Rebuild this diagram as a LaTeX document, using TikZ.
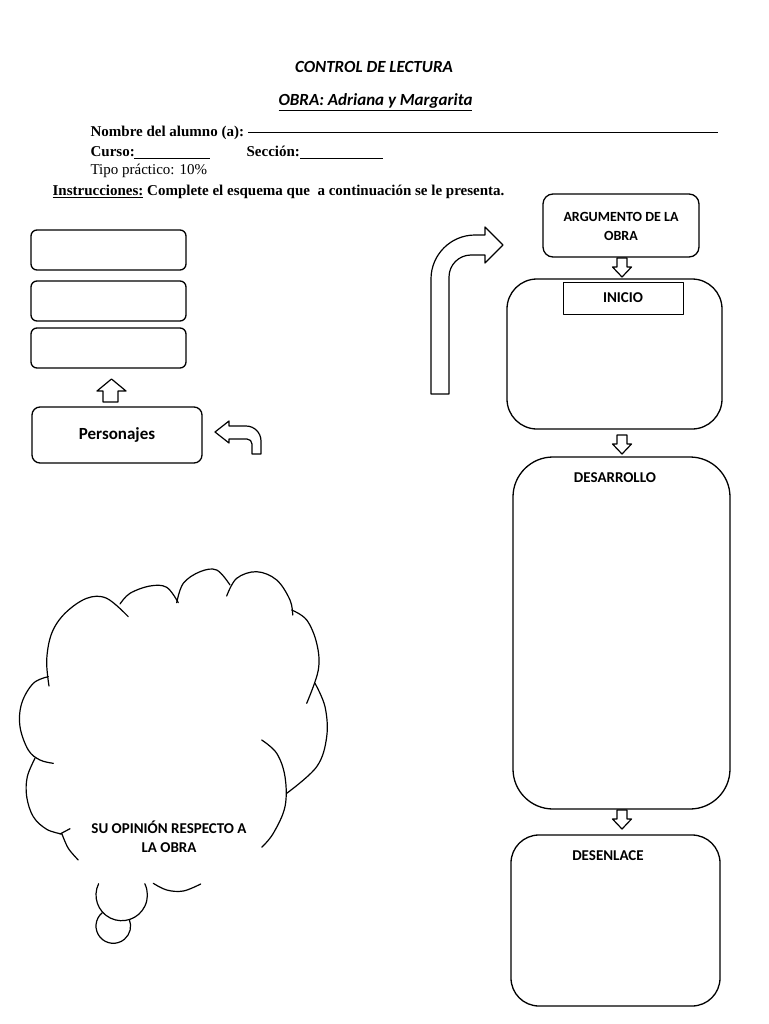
\documentclass[tikz,border=0pt]{standalone}
\usepackage{fontspec}
\setmainfont{Liberation Serif}
\newfontfamily\calib{Carlito}
\begin{document}
\begin{tikzpicture}[x=1pt,y=-1pt,line width=1.2pt,line join=round,
  box/.style={draw,rounded corners=#1,inner sep=0pt,line width=1.3pt},
  box/.default=6pt,
  lab/.style={font=\calib\bfseries\fontsize{15}{19}\selectfont,align=center,inner sep=0pt},
  ttl/.style={font=\calib\bfseries\itshape\fontsize{17}{20}\selectfont,inner sep=0pt,anchor=base},
  serif/.style={font=\fontsize{15}{17}\selectfont,inner sep=0pt,anchor=base west},
  serifb/.style={font=\bfseries\fontsize{15}{17}\selectfont,inner sep=0pt,anchor=base west},
  blk/.style={draw,fill=white,line width=1.2pt},
  darrow/.pic={\draw[blk] (-5,0) -- (5,0) -- (5,9) -- (9.5,9) -- (0,19) -- (-9.5,9) -- (-5,9) -- cycle;}
]
\fill[white] (0,0) rectangle (768,1024);
\useasboundingbox (0,0) rectangle (768,1024);

% ---------- header ----------
\node[ttl] (title) at (374,73) {CONTROL DE LECTURA};
\node[ttl] (obra) at (375.5,106) {\underline{OBRA: Adriana y Margarita}};
\node[serifb] (nom) at (90,137) {Nombre del alumno (a):};
\draw[line width=1pt] (248,133) -- (718,133);
\node[serifb] (curso) at (90,157) {Curso:};
\draw[line width=0.9pt] (134,158) -- (210,158);
\node[serifb] (secc) at (246,157) {Sección:};
\draw[line width=0.9pt] (300,158) -- (383,158);
\node[serif] (tipo) at (90,175) {Tipo práctico: 10\%};
\node[serifb] (instr) at (52,196) {\underline{Instrucciones:} Complete el esquema que\ \ a continuación se le presenta.};

% ---------- left column ----------
\node[box=6pt,minimum width=155pt,minimum height=40pt] (c1) at (108.5,250) {};
\node[box=6pt,minimum width=155pt,minimum height=40pt] (c2) at (108.5,301) {};
\node[box=6pt,minimum width=155pt,minimum height=40pt] (c3) at (108.5,348) {};
\node[box=8pt,minimum width=170pt,minimum height=56pt,font=\calib\bfseries\fontsize{17}{20}\selectfont] (pers) at (117,435) {Personajes};
% up block arrow
\draw[blk] (103,402) -- (118,402) -- (118,391) -- (126,391) -- (111.5,379) -- (97,391) -- (103,391) -- cycle;
% bent arrow pointing left
\draw[blk] (215,432) -- (229,421) -- (229,426) -- (246,426)
  arc[start angle=270,end angle=360,radius=15] -- (261,454) -- (252,454) -- (252,444)
  arc[start angle=0,end angle=-90,radius=5] -- (229,439) -- (229,443) -- cycle;

% ---------- right column ----------
\node[box=10pt,minimum width=156pt,minimum height=63pt] (arg) at (621,225.5) {};
\node[lab,font=\calib\bfseries\fontsize{14}{19}\selectfont] (argt) at (621,226.5) {ARGUMENTO DE LA\\OBRA};
\node[box=30pt,minimum width=215pt,minimum height=150pt] (ini) at (614.5,354) {};
\node[draw,line width=1pt,minimum width=120pt,minimum height=32pt,inner sep=0pt,lab] (inil) at (623,298) {INICIO};
\node[box=40pt,minimum width=217pt,minimum height=352pt] (des) at (621.5,633) {};
\node[lab] (dest) at (615,478) {DESARROLLO};
\node[box=28pt,minimum width=209pt,minimum height=171pt] (desl) at (615.5,920.5) {};
\node[lab] (deslt) at (608,856) {DESENLACE};

\pic at (622,258) {darrow};
\pic at (622,435) {darrow};
\pic at (622,810) {darrow};

% big bent arrow up-right
\draw[blk] (431,394) -- (431,279) arc[start angle=180,end angle=270,radius=44]
  -- (485,235) -- (485,227) -- (503,245) -- (485,263) -- (485,255) -- (471,255)
  arc[start angle=270,end angle=180,radius=22] -- (449,394) -- cycle;

% ---------- cloud ----------
\begin{scope}[line width=1.2pt,line cap=round]
\draw plot[smooth,tension=0.6] coordinates {(49,686) (46.7,660) (51.7,633.3) (65,613.3) (86.7,598.3) (106.7,598.3) (128.3,616.7)};
\draw plot[smooth,tension=0.6] coordinates {(120,604) (130,593.3) (150,586) (166.7,587.3) (178.3,602.7)};
\draw plot[smooth,tension=0.6] coordinates {(176.7,602.7) (183.3,583.3) (200,571.7) (216.7,570) (230,585)};
\draw plot[smooth,tension=0.6] coordinates {(226.7,596) (236.7,578.3) (256.7,571.7) (276.7,580) (290,600) (292.7,615)};
\draw plot[smooth,tension=0.6] coordinates {(291.7,610) (306.7,620) (316.7,643.3) (318.3,670) (306.7,703.3)};
\draw plot[smooth,tension=0.6] coordinates {(315,683.3) (325,706.7) (326.7,736.7) (316.7,766.7) (286.7,793.3)};
\draw plot[smooth,tension=0.6] coordinates {(261.7,740) (276.7,753.3) (285,776.7) (285,806.7) (273.3,833.3) (261.7,847.3)};
\draw plot[smooth,tension=0.6] coordinates {(48.3,676.7) (33.3,683.3) (21.7,703.3) (20,726.7) (28.3,750) (40,760) (53.3,763.3)};
\draw plot[smooth,tension=0.6] coordinates {(35,758.3) (27.3,776.7) (26.7,796.7) (33.3,816.7) (46.7,829.3) (61.7,834)};
\draw (60,834) -- (70,828.7);
\draw plot[smooth,tension=0.6] coordinates {(61.7,833.3) (68.3,848.3) (78.3,860)};
\draw plot[smooth,tension=0.6] coordinates {(153.3,883.3) (166.7,890) (183.3,891) (200.7,884)};
\draw (121.7,895) ++(206:25.7) arc[start angle=206,end angle=-26,radius=25.7];
\draw (113.3,926) ++(230:17.3) arc[start angle=230,end angle=-22,radius=17.3];
\end{scope}
\node[lab] (op) at (169,837) {SU OPINIÓN RESPECTO A\\LA OBRA};
\end{tikzpicture}
\end{document}
